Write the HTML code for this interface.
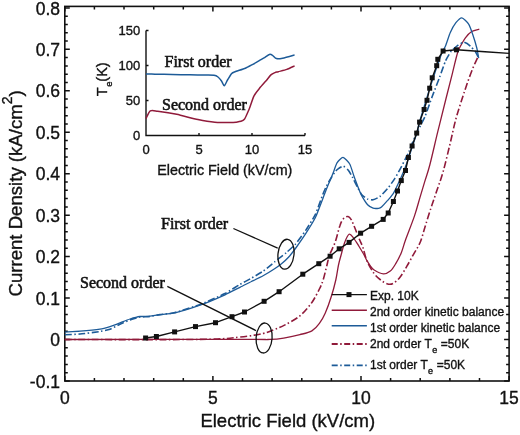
<!DOCTYPE html><html><head><meta charset="utf-8"><style>html,body{margin:0;padding:0;background:#fff;}svg{display:block}.s{font-family:"Liberation Sans",Arial,sans-serif}.t{stroke:#111;stroke-width:0.35px;paint-order:stroke}.tr{stroke:#111;stroke-width:0.55px;paint-order:stroke}.r{font-family:"Liberation Serif","Times New Roman",serif}</style></head><body>
<svg width="520" height="435" viewBox="0 0 520 435">
<rect width="520" height="435" fill="#fff"/>
<path d="M64.8,380.9 h5 M509.1,380.9 h-5 M64.8,372.7 h3 M509.1,372.7 h-3 M64.8,364.4 h3 M509.1,364.4 h-3 M64.8,356.1 h3 M509.1,356.1 h-3 M64.8,347.8 h3 M509.1,347.8 h-3 M64.8,339.5 h5 M509.1,339.5 h-5 M64.8,331.2 h3 M509.1,331.2 h-3 M64.8,322.9 h3 M509.1,322.9 h-3 M64.8,314.6 h3 M509.1,314.6 h-3 M64.8,306.3 h3 M509.1,306.3 h-3 M64.8,298.1 h5 M509.1,298.1 h-5 M64.8,289.8 h3 M509.1,289.8 h-3 M64.8,281.5 h3 M509.1,281.5 h-3 M64.8,273.2 h3 M509.1,273.2 h-3 M64.8,264.9 h3 M509.1,264.9 h-3 M64.8,256.6 h5 M509.1,256.6 h-5 M64.8,248.3 h3 M509.1,248.3 h-3 M64.8,240 h3 M509.1,240 h-3 M64.8,231.7 h3 M509.1,231.7 h-3 M64.8,223.4 h3 M509.1,223.4 h-3 M64.8,215.2 h5 M509.1,215.2 h-5 M64.8,206.9 h3 M509.1,206.9 h-3 M64.8,198.6 h3 M509.1,198.6 h-3 M64.8,190.3 h3 M509.1,190.3 h-3 M64.8,182 h3 M509.1,182 h-3 M64.8,173.7 h5 M509.1,173.7 h-5 M64.8,165.4 h3 M509.1,165.4 h-3 M64.8,157.1 h3 M509.1,157.1 h-3 M64.8,148.8 h3 M509.1,148.8 h-3 M64.8,140.5 h3 M509.1,140.5 h-3 M64.8,132.2 h5 M509.1,132.2 h-5 M64.8,124 h3 M509.1,124 h-3 M64.8,115.7 h3 M509.1,115.7 h-3 M64.8,107.4 h3 M509.1,107.4 h-3 M64.8,99.1 h3 M509.1,99.1 h-3 M64.8,90.8 h5 M509.1,90.8 h-5 M64.8,82.5 h3 M509.1,82.5 h-3 M64.8,74.2 h3 M509.1,74.2 h-3 M64.8,65.9 h3 M509.1,65.9 h-3 M64.8,57.6 h3 M509.1,57.6 h-3 M64.8,49.3 h5 M509.1,49.3 h-5 M64.8,41.1 h3 M509.1,41.1 h-3 M64.8,32.8 h3 M509.1,32.8 h-3 M64.8,24.5 h3 M509.1,24.5 h-3 M64.8,16.2 h3 M509.1,16.2 h-3 M64.8,7.9 h5 M509.1,7.9 h-5 M64.8,381 v-5 M64.8,6.4 v5 M94.4,381 v-3 M94.4,6.4 v3 M124,381 v-3 M124,6.4 v3 M153.7,381 v-3 M153.7,6.4 v3 M183.3,381 v-3 M183.3,6.4 v3 M212.9,381 v-5 M212.9,6.4 v5 M242.5,381 v-3 M242.5,6.4 v3 M272.1,381 v-3 M272.1,6.4 v3 M301.8,381 v-3 M301.8,6.4 v3 M331.4,381 v-3 M331.4,6.4 v3 M361,381 v-5 M361,6.4 v5 M390.6,381 v-3 M390.6,6.4 v3 M420.2,381 v-3 M420.2,6.4 v3 M449.9,381 v-3 M449.9,6.4 v3 M479.5,381 v-3 M479.5,6.4 v3 M509.1,381 v-5 M509.1,6.4 v5" stroke="#111" stroke-width="1.5" fill="none"/>
<rect x="64.8" y="6.4" width="444.3" height="374.6" stroke="#111" stroke-width="1.6" fill="none"/>
<g class="s t" font-size="17.5" fill="#111" text-anchor="end">
<text x="60" y="387.6">-0.1</text>
<text x="60" y="346.1">0</text>
<text x="60" y="304.7">0.1</text>
<text x="60" y="263.2">0.2</text>
<text x="60" y="221.8">0.3</text>
<text x="60" y="180.3">0.4</text>
<text x="60" y="138.8">0.5</text>
<text x="60" y="97.4">0.6</text>
<text x="60" y="56">0.7</text>
<text x="60" y="14.5">0.8</text>
</g>
<g class="s t" font-size="17.5" fill="#111" text-anchor="middle">
<text x="64.8" y="404.3">0</text>
<text x="212.9" y="404.3">5</text>
<text x="361" y="404.3">10</text>
<text x="509.1" y="404.3">15</text>
</g>
<text class="s t" font-size="18.5" x="287.8" y="427.4" text-anchor="middle" fill="#111">Electric Field (kV/cm)</text>
<text class="s t" font-size="18.6" transform="translate(22.2,193.4) rotate(-90)" text-anchor="middle" fill="#111">Current Density (kA/cm<tspan dy="-9.8" font-size="14">2</tspan><tspan dy="9.8">)</tspan></text>
<g fill="none" stroke-linejoin="round">
<path d="M64.8,339.5 C94,339.5 205.8,339.4 240,339.4 C274.2,339.4 262.5,339.7 270,339.4 C277.5,339.1 280,338.6 285,337.8 C290,337 295.4,335.8 299.9,334.6 C304.4,333.5 308.6,332.8 311.9,330.9 C315.1,329 317.2,326.4 319.4,323.4 C321.6,320.4 323.3,317.4 325.3,312.9 C327.3,308.4 329.6,302 331.3,296.5 C333.1,291 334.6,285.2 335.8,280 C337,274.8 337.6,269.2 338.5,265 C339.4,260.8 340.1,258.7 341.1,255 C342.1,251.3 343.2,246.3 344.5,242.9 C345.8,239.5 347.6,235.1 349.1,234.3 C350.6,233.5 352.2,236.5 353.7,238.3 C355.2,240.1 356.6,242.4 358.3,245.2 C360,248 362.7,252.4 364.1,255 C365.5,257.6 365.9,258.8 366.9,260.5 C367.9,262.2 368.9,264 370,265.5 C371.1,267 371.6,268.3 373.8,269.7 C376,271.1 380.6,273.6 383.4,273.8 C386.1,274 388.2,272.7 390.3,271 C392.4,269.3 394,266.5 395.9,263.4 C397.8,260.3 399.8,256.3 401.4,252.4 C403,248.5 403.3,246.1 405.5,240 C407.7,233.9 412.1,223 414.5,215.9 C416.9,208.8 418.3,203.2 420,197.4 C421.7,191.7 423.2,186.8 424.8,181.4 C426.4,176 427.6,173.4 429.8,165 C432,156.6 435.2,142.2 437.9,131.2 C440.6,120.2 443.5,108.7 445.9,99 C448.3,89.3 450.5,80.8 452.4,73.3 C454.3,65.8 455.9,58.5 457.2,54 C458.5,49.5 458.9,49.2 460.3,46.5 C461.7,43.8 463.5,40.3 465.4,37.8 C467.3,35.3 469.4,32.9 471.7,31.5 C474,30.1 478,29.6 479.3,29.2" stroke="#901a3a" stroke-width="1.3"/>
<path d="M64.8,339.5 C87.3,339.5 170.8,339.8 200,339.4 C229.2,339 229.5,338 240,337 C250.5,336 257.2,334.8 263,333.5 C268.8,332.2 270.8,330.8 274.5,329.4 C278.2,328 280.8,327.1 285,324.9 C289.2,322.6 295.4,319.6 299.9,315.9 C304.4,312.1 308.6,306.9 311.9,302.4 C315.1,297.9 317.5,292.7 319.4,289 C321.3,285.3 321.9,283.7 323.1,280 C324.3,276.3 325.4,271.2 326.5,267 C327.6,262.8 328.1,259.2 329.6,255 C331.1,250.8 333.6,246.7 335.3,241.8 C337,236.9 338.5,229.5 339.9,225.7 C341.2,221.9 342,220.3 343.4,218.8 C344.8,217.3 346.7,216.3 348,216.5 C349.3,216.7 350.2,218 351.4,219.9 C352.5,221.8 353.5,224.7 354.9,228 C356.2,231.3 358.2,236.2 359.5,239.5 C360.8,242.8 361.7,244 362.9,247.5 C364.1,251 365.1,256.4 366.9,260.7 C368.7,265 371.5,269.9 373.8,273.1 C376.1,276.3 378.4,278.2 380.7,280 C383,281.8 385.5,283.3 387.6,283.9 C389.7,284.5 391,284.5 393.1,283.4 C395.2,282.3 397.7,280.1 400,277.2 C402.3,274.3 404.6,270.1 406.9,266.2 C409.2,262.3 411.6,257.7 413.8,253.8 C416,249.9 418.1,247.3 420,242.8 C421.9,238.3 423.3,232.5 425,227 C426.7,221.5 428.4,215.7 430.3,210 C432.2,204.3 434,199.1 436.1,192.8 C438.2,186.5 440.7,180.2 443,172.1 C445.3,164 447.8,153.2 449.9,144.5 C452,135.8 453.6,127.6 455.6,120 C457.6,112.4 460.1,105.1 462.1,98.8 C464.1,92.5 465.8,87.5 467.6,82.3 C469.4,77.1 471.4,71.7 473.1,67.6 C474.8,63.5 476.8,59.5 477.7,57.5 C478.6,55.5 478.5,56.1 478.6,55.8" stroke="#901a3a" stroke-width="1.6" stroke-dasharray="7 2.5 1.5 2.5"/>
<path d="M64.8,332.1 C66.3,332 76.5,331.5 80,331.2 C83.5,330.9 97,329.6 100,329.2 C103,328.8 108,327.3 110,326.7 C112,326.1 118,323.7 120,322.9 C122,322.1 128,319.6 130,319 C132,318.4 138,316.8 140,316.5 C142,316.2 148,316.4 150,316.2 C152,316 157.5,314.9 160,314.6 C162.5,314.3 171,313.7 175,312.8 C179,311.9 195,307 200,305.2 C205,303.4 221,296.6 225,294.8 C229,293 237.3,288.6 240,287.3 C242.7,286 249.2,282.6 251.5,281.5 C253.8,280.4 260.8,277.1 263.1,275.8 C265.4,274.5 272.8,270 274.6,268.8 C276.4,267.6 280.1,264.8 281.5,263.7 C282.9,262.6 287.1,258.9 288.5,257.3 C289.9,255.7 294.1,250.4 295.8,248 C297.5,245.6 303.7,236.7 305.7,233.6 C307.7,230.5 313.5,221.4 315.4,217.5 C317.2,213.6 322.9,198.4 324.2,195 C325.5,191.6 327.8,185.8 328.7,183.6 C329.6,181.4 332.5,174.7 333.3,172.6 C334.1,170.5 336,164.4 337,162.9 C338,161.4 341.7,157.3 343,157.4 C344.3,157.5 348.6,162.2 349.7,164 C350.8,165.8 353,173.4 353.8,175.7 C354.6,178 357.1,184.6 357.9,186.7 C358.7,188.8 361.1,194.6 362.1,196.4 C363.1,198.2 366.5,203.5 367.6,204.7 C368.7,205.9 372,207.7 373.1,208.1 C374.2,208.5 377.8,208.4 378.6,208.3 C379.4,208.2 380.6,207.8 381.5,207 C382.4,206.2 386.2,202.1 387.4,200.7 C388.6,199.3 392.2,195.2 393.4,193.3 C394.6,191.4 398.3,183.5 399.3,181.3 C400.3,179.1 402.9,173.1 403.8,170.9 C404.7,168.7 407.5,161.3 408.3,159 C409.1,156.7 411.2,150 412,147.5 C412.8,145 415.8,136.5 416.5,134 C417.2,131.5 418.6,125 419.4,122.2 C420.2,119.4 423.5,108.8 424.5,105.5 C425.5,102.2 428.4,92.4 429.5,89.1 C430.6,85.8 433.8,76.1 435,72.6 C436.2,69.1 440.3,56.9 441.4,54.2 C442.4,51.5 444.6,48.1 445.5,46 C446.4,43.9 449.2,35.1 450.2,32.8 C451.2,30.5 454.7,24.2 455.9,22.7 C457.1,21.2 460.5,17.7 461.8,17.8 C463.1,17.9 467.4,22.1 468.5,23.9 C469.6,25.6 472.2,32.9 473,35.3 C473.8,37.7 476.2,45.7 476.8,48 C477.4,50.3 478.5,57.1 478.7,58.1" stroke="#1d5b98" stroke-width="1.3"/>
<path d="M64.8,334.8 C66.3,334.7 76.5,334.3 80,334 C83.5,333.7 97,332 100,331.5 C103,331 108,329.9 110,329.2 C112,328.5 118,325.1 120,324.2 C122,323.3 128,320.7 130,320 C132,319.3 138,317.5 140,317.1 C142,316.8 148,316.8 150,316.5 C152,316.2 157.5,315 160,314.6 C162.5,314.2 171,313.5 175,312.5 C179,311.5 195,306.4 200,304.5 C205,302.6 221,295.5 225,293.5 C229,291.5 237.3,285.9 240,284.4 C242.7,282.9 249.2,279.4 251.5,278.1 C253.8,276.8 260.8,272.8 263.1,271.2 C265.4,269.6 272.3,263.8 274.6,261.9 C276.9,260 284.1,254.5 286.2,252.7 C288.3,250.9 293.4,246.4 295.4,244.2 C297.3,242 303.7,233.4 305.7,230.4 C307.7,227.4 313.7,217.8 315.4,214.3 C317.1,210.8 321.5,197.8 322.6,195 C323.7,192.2 325.7,187.6 326.5,186 C327.3,184.4 329.6,180.4 330.5,179 C331.4,177.6 334.3,172.8 335.1,171.7 C335.9,170.6 338,169 338.8,168.4 C339.6,167.8 342.4,166 343.4,166.2 C344.3,166.4 347.4,169.1 348.3,170.2 C349.2,171.3 351.4,175.3 352.4,177.1 C353.4,178.9 356.9,186.3 357.9,188.1 C358.9,189.9 361.1,193.9 362.1,195 C363.1,196.1 366.5,198.6 367.6,199.1 C368.7,199.6 371.9,200.1 373.1,199.8 C374.3,199.5 378.5,197.6 379.9,196.5 C381.3,195.4 385.9,190.6 387.4,188.8 C388.9,187 393.6,180.5 394.9,178.4 C396.2,176.3 399.8,169.8 400.8,167.9 C401.8,166 404.5,160.6 405.3,159 C406.1,157.4 408.3,153.2 409,151.5 C409.7,149.8 411.6,144.5 412.5,142.5 C413.4,140.5 416.4,133.9 417.6,131.3 C418.8,128.7 423.4,120.2 424.9,116.7 C426.4,113.2 430.7,100.5 432.2,96.5 C433.7,92.5 438.3,80.8 439.6,77.2 C440.9,73.7 444.4,63.6 445.5,61 C446.6,58.4 449.8,53.1 451,51.5 C452.2,49.9 456.5,46.3 457.8,45.4 C459.1,44.5 462.8,42.2 464.1,42.3 C465.4,42.4 469.3,45.1 470.4,46.1 C471.5,47.1 474.7,50.6 475.5,51.8 C476.3,53 478.4,57.5 478.7,58.1" stroke="#1d5b98" stroke-width="1.6" stroke-dasharray="7 2.5 1.5 2.5"/>
<path d="M145.6,338 L156.4,336.5 L174.6,331.9 L195.5,326.6 L215.5,322.7 L232,316.7 L244.5,312 L264.1,301.3 L279.1,291.7 L302.8,274.2 L318.8,263.7 L330.1,256.2 L339.2,248.8 L349.1,242.4 L360.6,233.2 L371.6,226.3 L383.2,219.4 L388.2,213 L393.4,201.5 L397.5,191 L401.3,180.6 L405.5,170.5 L408.4,157.5 L412.1,146 L416.7,133.1 L419.6,122.1 L424.1,109.5 L427,100.3 L429.7,88.2 L432.2,77.8 L436.7,65.7 L437.8,59.3 L443.1,51 L456.5,49.8 L485,51.8 L509.1,53.4" stroke="#111" stroke-width="1.4"/>
</g>
<g fill="#111">
<rect x="143.1" y="335.5" width="5" height="5"/>
<rect x="153.9" y="334" width="5" height="5"/>
<rect x="172.1" y="329.4" width="5" height="5"/>
<rect x="193" y="324.1" width="5" height="5"/>
<rect x="213" y="320.2" width="5" height="5"/>
<rect x="229.5" y="314.2" width="5" height="5"/>
<rect x="242" y="309.5" width="5" height="5"/>
<rect x="261.6" y="298.8" width="5" height="5"/>
<rect x="276.6" y="289.2" width="5" height="5"/>
<rect x="300.3" y="271.7" width="5" height="5"/>
<rect x="316.3" y="261.2" width="5" height="5"/>
<rect x="327.6" y="253.7" width="5" height="5"/>
<rect x="336.7" y="246.3" width="5" height="5"/>
<rect x="346.6" y="239.9" width="5" height="5"/>
<rect x="358.1" y="230.7" width="5" height="5"/>
<rect x="369.1" y="223.8" width="5" height="5"/>
<rect x="380.7" y="216.9" width="5" height="5"/>
<rect x="385.7" y="210.5" width="5" height="5"/>
<rect x="390.9" y="199" width="5" height="5"/>
<rect x="395" y="188.5" width="5" height="5"/>
<rect x="398.8" y="178.1" width="5" height="5"/>
<rect x="403" y="168" width="5" height="5"/>
<rect x="405.9" y="155" width="5" height="5"/>
<rect x="409.6" y="143.5" width="5" height="5"/>
<rect x="414.2" y="130.6" width="5" height="5"/>
<rect x="417.1" y="119.6" width="5" height="5"/>
<rect x="421.6" y="107" width="5" height="5"/>
<rect x="424.5" y="97.8" width="5" height="5"/>
<rect x="427.2" y="85.7" width="5" height="5"/>
<rect x="429.7" y="75.3" width="5" height="5"/>
<rect x="434.2" y="63.2" width="5" height="5"/>
<rect x="435.3" y="56.8" width="5" height="5"/>
<rect x="440.6" y="48.5" width="5" height="5"/>
<rect x="454" y="47.3" width="5" height="5"/>
</g>
<g class="r tr" font-size="16" fill="#111">
<text x="161" y="229.4">First order</text>
<text x="80" y="287.5">Second order</text>
</g>
<g fill="none" stroke="#111" stroke-width="1.3">
<path d="M233.4,228.5 L277.7,248.2"/>
<path d="M167.3,286.4 L256,330.6"/>
<ellipse cx="286" cy="254.2" rx="8" ry="15" transform="rotate(6 286 254.2)"/>
<ellipse cx="264.1" cy="338" rx="8" ry="15" transform="rotate(4 264.1 338)"/>
</g>
<g fill="none">
<path d="M331.7,294.6 H366.9" stroke="#111" stroke-width="1.3"/>
<path d="M331.7,310.3 H366.9" stroke="#901a3a" stroke-width="1.4"/>
<path d="M331.7,325.8 H366.9" stroke="#1d5b98" stroke-width="1.4"/>
<path d="M331.7,344 H366.9" stroke="#901a3a" stroke-width="1.8" stroke-dasharray="6 2.5 1.5 2.5"/>
<path d="M331.7,365.4 H366.9" stroke="#1d5b98" stroke-width="1.8" stroke-dasharray="6 2.5 1.5 2.5"/>
</g>
<rect x="346.5" y="292.1" width="5" height="5" fill="#111"/>
<g class="s t" font-size="12" fill="#111">
<text x="370" y="300">Exp. 10K</text>
<text x="370" y="315.8">2nd order kinetic balance</text>
<text x="370" y="331.6">1st order kinetic balance</text>
<text x="370" y="347.6">2nd order T<tspan dy="5.2" dx="0.3" font-size="9">e</tspan><tspan dy="-5.2" dx="0.3"> =50K</tspan></text>
<text x="370" y="368.8">1st order T<tspan dy="5.2" dx="0.3" font-size="9">e</tspan><tspan dy="-5.2" dx="0.3"> =50K</tspan></text>
</g>
<path d="M146,135.5 h2.5 M146,100.5 h2.5 M146,65.5 h2.5 M146,30.5 h2.5 M146,135.5 v-2.5 M199,135.5 v-2.5 M252,135.5 v-2.5 M305,135.5 v-2.5 M146,30.5 V135.5 H305" stroke="#111" stroke-width="1.4" fill="none"/>
<g class="s t" font-size="13" fill="#111" text-anchor="end">
<text x="140.3" y="140.3">0</text>
<text x="140.3" y="105.3">50</text>
<text x="140.3" y="70.3">100</text>
<text x="140.3" y="35.3">150</text>
</g>
<g class="s t" font-size="13" fill="#111" text-anchor="middle">
<text x="146" y="154.3">0</text>
<text x="199" y="154.3">5</text>
<text x="252" y="154.3">10</text>
<text x="305" y="154.3">15</text>
</g>
<text class="s t" font-size="14.3" x="224.8" y="174.5" text-anchor="middle" fill="#111">Electric Field (kV/cm)</text>
<text class="s t" font-size="14.5" transform="translate(107.4,96.2) rotate(-90)" fill="#111">T<tspan dy="4.7" dx="0.6" font-size="9.5">e</tspan><tspan dy="-4.7" dx="-0.2">(K)</tspan></text>
<g fill="none" stroke-width="1.5" stroke-linejoin="round">
<path d="M146,118.6 C146.5,117.7 148.9,111.8 150.3,110.9 C151.7,110 154.6,110.8 157.7,111.2 C160.8,111.6 172,113.3 176.7,114.3 C181.4,115.3 193.5,118.7 197.9,119.6 C202.3,120.5 211.1,121.9 214.8,122.2 C218.5,122.5 227.1,122.6 229.6,122.6 C232.1,122.6 234.7,122.4 236,122.2 C237.3,122 240,121.6 241,121.3 C242,121 243.7,120.2 244.4,119.3 C245.1,118.4 246.4,115.4 247,114 C247.6,112.6 248.9,109.8 249.7,107.7 C250.5,105.6 252.8,98.3 253.9,96.1 C255,93.9 257.8,90.4 259.2,88.7 C260.6,87 264.2,82.9 265.6,81.3 C267,79.7 269.8,75.9 270.9,74.9 C272,73.9 274.1,73 275,72.6 C275.9,72.2 276.9,72.1 278.3,71.7 C279.7,71.3 284.9,70.1 286.8,69.4 C288.7,68.7 293.7,66.3 294.6,65.9" stroke="#901a3a"/>
<path d="M146,73.9 C147.1,73.9 152,74.1 155,74.2 C158,74.3 167.9,74.4 172,74.5 C176.1,74.6 186.2,74.7 190,74.8 C193.8,74.9 202.2,74.9 205,75 C207.8,75.1 212.5,75.1 214,75.3 C215.5,75.5 217.1,76.3 218,77 C218.9,77.7 220.8,80 221.5,81 C222.2,82 223.6,85.9 224.3,85.8 C225,85.7 226.6,81.4 227.5,80 C228.4,78.6 230.8,74.5 231.7,73.5 C232.6,72.5 234.3,72.1 235,71.8 C235.7,71.5 236.8,71.1 238,70.7 C239.2,70.3 243.7,68.9 245.4,68.2 C247.1,67.5 251.2,65.2 252.9,64.3 C254.6,63.4 258.6,61 260,60.2 C261.4,59.4 263.9,58 265,57.3 C266.1,56.6 268.6,54.6 269.5,54.4 C270.4,54.2 271.7,54.8 272.5,55.3 C273.3,55.8 275.3,58.3 276.5,58.6 C277.7,58.9 280.5,58.6 282.6,58.2 C284.7,57.8 293.2,55.3 294.6,54.9" stroke="#1d5b98"/>
</g>
<g class="r tr" font-size="16" fill="#111">
<text x="164.5" y="66.5">First order</text>
<text x="162" y="110.1">Second order</text>
</g>
</svg></body></html>
